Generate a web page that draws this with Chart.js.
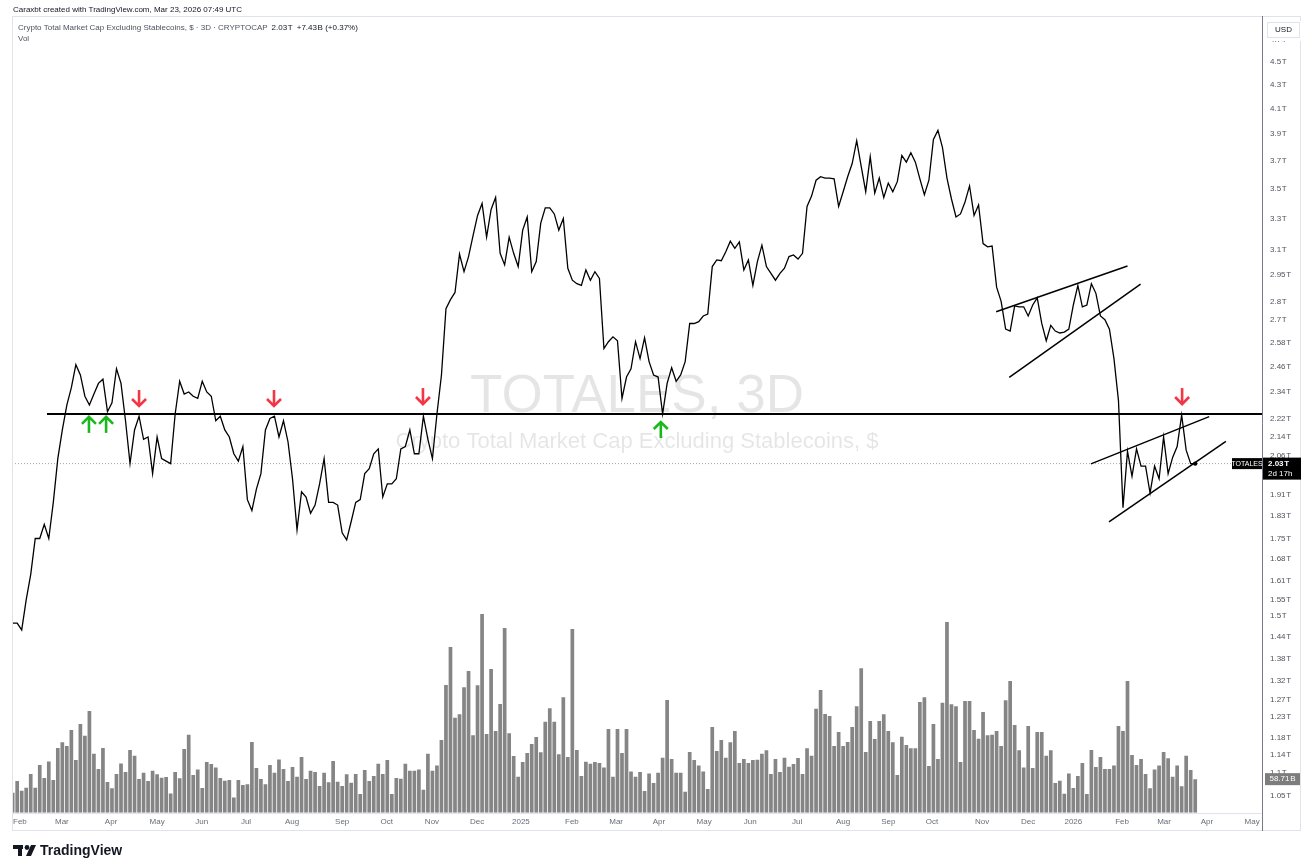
<!DOCTYPE html>
<html>
<head>
<meta charset="utf-8">
<script src="https://cdn.jsdelivr.net/npm/chart.js@4.4.0/dist/chart.umd.min.js"></script>
<style>
html, body { margin: 0; padding: 0; background: #fff; }
#wrap { position: relative; width: 1306px; height: 865px; }
</style>
</head>
<body>
<div id="wrap"><canvas id="chart"></canvas></div>
<script>
// TOTALES, 3D candles (close, in trillions USD)
const price = [
  1.48, 1.48, 1.46, 1.55, 1.63, 1.75, 1.75, 1.80, 1.75, 1.88,
  2.05, 2.17, 2.28, 2.36, 2.47, 2.42, 2.32, 2.28, 2.33, 2.38,
  2.40, 2.25, 2.29, 2.45, 2.38, 2.21, 2.03, 2.17, 2.23, 2.13,
  2.14, 1.99, 2.14, 2.05, 2.04, 2.03, 2.24, 2.39, 2.33, 2.34,
  2.32, 2.31, 2.39, 2.34, 2.32, 2.21, 2.23, 2.17, 2.14, 2.07,
  2.04, 2.10, 1.89, 1.85, 1.93, 1.99, 2.17, 2.22, 2.23, 2.14,
  2.21, 2.12, 1.97, 1.78, 1.92, 1.90, 1.84, 1.87, 1.95, 2.05,
  1.88, 1.88, 1.87, 1.77, 1.745, 1.81, 1.88, 1.89, 1.99, 2.01,
  2.07, 2.09, 1.90, 1.95, 1.95, 1.97, 2.09, 2.10, 2.17, 2.07,
  2.07, 2.23, 2.13, 2.05, 2.24, 2.42,
  2.76, 2.81, 2.85, 3.075, 2.97, 3.06, 3.19, 3.32, 3.40, 3.18,
  3.36, 3.44, 3.08, 3.01, 3.18, 3.08, 3.00, 3.225, 3.31, 2.97,
  3.03, 3.27, 3.37, 3.37, 3.33, 3.225, 3.30, 2.99, 2.92, 2.90,
  2.89, 2.98, 2.92, 2.97, 2.93, 2.55, 2.585, 2.61, 2.59, 2.31,
  2.41, 2.45, 2.585, 2.50, 2.605, 2.485, 2.42, 2.41, 2.24, 2.38,
  2.455, 2.39, 2.42, 2.485, 2.68, 2.68, 2.69,
  2.72, 2.73, 3.00, 3.04, 3.035, 3.09, 3.155, 3.11, 3.15, 2.98,
  3.04, 2.89, 3.03, 3.13, 3.00, 2.96, 2.92, 2.96, 2.99, 3.06,
  3.07, 3.045, 3.08, 3.38, 3.45, 3.56, 3.585, 3.575, 3.575, 3.57,
  3.38, 3.48, 3.585, 3.68, 3.85, 3.66, 3.48, 3.73, 3.47, 3.575,
  3.44, 3.54, 3.48, 3.55, 3.74, 3.69, 3.76, 3.69, 3.57, 3.46,
  3.56, 3.86, 3.93, 3.80, 3.575,
  3.43, 3.31, 3.33, 3.41, 3.52, 3.32, 3.39, 3.14, 3.12, 3.125,
  2.88, 2.80, 2.65, 2.64, 2.775, 2.77, 2.77, 2.72, 2.78, 2.82,
  2.68, 2.59, 2.67, 2.64, 2.63, 2.635, 2.65, 2.78, 2.89, 2.77,
  2.78, 2.90, 2.845, 2.72, 2.70, 2.65, 2.50, 2.30, 1.86, 2.08,
  1.98, 2.09, 2.02, 2.02, 1.915, 2.02, 1.97, 2.14, 1.99, 2.055,
  2.10, 2.235, 2.085, 2.03, 2.03
];

// volume per bar, billions
const volume = [
  35, 55.4, 38.5, 43.7, 67.7, 43.7, 83.4, 60.7, 89.8, 57.2,
  113.2, 123.1, 116.7, 144.7, 92.2, 155.2, 134.7, 177.9, 103.2, 76.4,
  113.2, 53.7, 42.6, 67.7, 86.3, 71.2, 109.7, 99.7, 58.9, 70,
  55.4, 73.5, 67.1, 61.2, 62.4, 33.8, 71.2, 60.1, 111.4, 136.5,
  65.9, 75.8, 43.2, 88.7, 85.2, 79.3, 60.7, 56, 57.2, 26.8,
  57.2, 48.4, 49.6, 123.7, 78.2, 58.9, 49.6, 83.4, 70, 93.3,
  76.4, 55.4, 79.9, 63, 97.4, 58.9, 73.5, 71.2, 46.7, 70,
  53.1, 90.4, 54.2, 46.7, 67.1, 52.5, 67.7, 32.7, 74.7, 55.4,
  64.2, 85.7, 67.7, 92.2, 32.7, 60.7, 59.5, 85.7, 73.5, 73.5,
  75.8, 40.2, 103.2, 73.5, 82.8, 127.2, 223.4,
  290, 166.2, 172.1, 219.3, 247.9, 135.3, 222.8, 347.7, 137.7, 251.4,
  142.9, 190.2, 323.2, 138.8, 99.2, 63, 88.7, 104.4, 120.2, 132.4,
  105.6, 159.2, 182.6, 159.2, 102.1, 201.8, 97.4, 321.4, 109.7, 64.2,
  89.2, 85.7, 88.7, 86.9, 79.3, 146.4, 63, 146.4, 104.4, 146.4,
  72.3, 63, 71.2, 37.9, 68.8, 51.9, 70, 96.2, 197.2, 93.9,
  70, 70, 36.7, 106.2, 92.2, 82.8, 72.3, 41.4, 149.9, 107.9,
  127.2, 96.2, 123.1, 142.9, 86.9, 93.9, 86.9, 92.2, 92.7, 103.2,
  109.1, 67.7, 93.9, 71.2, 96.2, 80.5, 85.2, 95.7, 67.7, 112.6,
  99.7, 182, 214.7, 172.7, 169.2,
  116.7, 141.2, 116.7, 123.7, 149.9, 186.1, 252.6, 106.2, 160.4, 128.9,
  160.4, 172.1, 142.9, 123.1, 65.9, 133, 118.4, 112.6, 112.6, 193.7,
  201.8, 81.7, 155.2, 93.9, 192.5, 333.7, 189.6, 186.1, 88.7, 195.4,
  195.4, 144.7, 129.5, 176.2, 135.3, 136.5, 142.9, 116.7, 196.6, 230.4,
  153.4, 109.1, 79.3, 151.7, 78.2, 141.2, 141.2, 99.7, 109.1, 51.9,
  56, 33.2, 68.8, 43.2, 64.2, 86.9, 32.7, 109.7, 79.9, 97.4,
  76.4, 76.4, 82.8, 151.7, 142.9, 230.4, 100.9, 83.4, 93.9, 67.7,
  42.6, 75.8, 82.8, 106.2, 95.1, 63, 82.8, 46.1, 99.7, 74.7,
  58.71
];

const priceTicks = [4.7, 4.5, 4.3, 4.1, 3.9, 3.7, 3.5, 3.3, 3.1, 2.95, 2.8, 2.7, 2.58, 2.46, 2.34,
  2.22, 2.14, 2.06, 1.98, 1.91, 1.83, 1.75, 1.68, 1.61, 1.55, 1.5, 1.44, 1.38, 1.32, 1.27,
  1.23, 1.18, 1.14, 1.1, 1.05];

const monthLabels = ['Feb', 'Mar', 'Apr', 'May', 'Jun', 'Jul', 'Aug', 'Sep', 'Oct', 'Nov', 'Dec', '2025',
  'Feb', 'Mar', 'Apr', 'May', 'Jun', 'Jul', 'Aug', 'Sep', 'Oct', 'Nov', 'Dec', '2026',
  'Feb', 'Mar', 'Apr', 'May'];
const monthIdx = [1.6, 10.9, 21.8, 32.0, 41.9, 51.7, 61.9, 73.0, 82.9, 92.9, 102.9, 112.6,
  123.9, 133.7, 143.2, 153.2, 163.4, 173.8, 184.0, 194.0, 203.7, 214.8, 225.0, 235.0,
  245.8, 255.1, 264.6, 274.6];

// drawings (bar index, price)
const supportLevel = 2.24;
const supportStart = 7.6;
const lastPrice = 2.03;
const lastVolume = 58.71;
const trendLines = [
  [[217.9, 2.743], [247.0, 3.003]],
  [[220.8, 2.409], [249.9, 2.898]],
  [[238.9, 2.029], [265.1, 2.228]],
  [[242.9, 1.809], [268.8, 2.122]]
];
const upArrows = [[16.9, 2.192], [20.7, 2.192], [143.6, 2.170]];
const downArrows = [[28.0, 2.312], [57.9, 2.312], [90.9, 2.321], [259.1, 2.321]];

const xMin = -0.15, xMax = 276.8;
const yMin = 1.0162, yMax = 4.891;
const volMax = 1387;

const FONT = '"Liberation Sans", Arial, sans-serif';
Chart.defaults.font.family = FONT;

function drawArrow(ctx, x, y, up, color) {
  ctx.save();
  ctx.strokeStyle = color;
  ctx.lineWidth = 2.6;
  ctx.lineCap = 'butt';
  ctx.lineJoin = 'miter';
  const h = 8;
  ctx.beginPath();
  ctx.moveTo(x, y - h);
  ctx.lineTo(x, y + h);
  ctx.stroke();
  ctx.beginPath();
  if (up) {
    ctx.moveTo(x - 7, y - h + 7);
    ctx.lineTo(x, y - h);
    ctx.lineTo(x + 7, y - h + 7);
  } else {
    ctx.moveTo(x - 7, y + h - 7);
    ctx.lineTo(x, y + h);
    ctx.lineTo(x + 7, y + h - 7);
  }
  ctx.stroke();
  ctx.restore();
}

const overlay = {
  id: 'overlay',
  beforeDatasetsDraw(chart) {
    const { ctx, chartArea: a } = chart;
    const cx = (a.left + a.right) / 2;
    ctx.save();
    ctx.fillStyle = 'rgba(0,0,0,0.1)';
    ctx.textAlign = 'center';
    ctx.textBaseline = 'middle';
    ctx.font = '53px ' + FONT;
    ctx.fillText('TOTALES, 3D', cx, 397);
    ctx.font = '22px ' + FONT;
    ctx.fillText('Crypto Total Market Cap Excluding Stablecoins, $', cx, 442);
    ctx.restore();
  },
  afterDatasetsDraw(chart) {
    const { ctx, scales } = chart;
    upArrows.forEach(p => drawArrow(ctx, scales.x.getPixelForValue(p[0]), scales.y.getPixelForValue(p[1]), true, '#19b91c'));
    downArrows.forEach(p => drawArrow(ctx, scales.x.getPixelForValue(p[0]), scales.y.getPixelForValue(p[1]), false, '#f23645'));
  },
  afterDraw(chart) {
    const { ctx, chartArea: a, scales } = chart;
    ctx.save();
    // pane frame
    ctx.strokeStyle = '#e0e3eb';
    ctx.lineWidth = 1;
    ctx.strokeRect(12.5, 16.5, 1288, 814);
    ctx.beginPath();
    ctx.moveTo(12, Math.round(a.bottom) + 0.5);
    ctx.lineTo(a.right, Math.round(a.bottom) + 0.5);
    ctx.stroke();
    ctx.strokeStyle = '#787b86';
    ctx.beginPath();
    ctx.moveTo(Math.round(a.right) + 0.5, 16);
    ctx.lineTo(Math.round(a.right) + 0.5, 831);
    ctx.stroke();

    // header
    ctx.textBaseline = 'middle';
    ctx.textAlign = 'left';
    ctx.fillStyle = '#131722';
    ctx.font = '8px ' + FONT;
    ctx.fillText('Caraxbt created with TradingView.com, Mar 23, 2026 07:49 UTC', 13, 10);

    // legend
    let x = 18;
    ctx.fillStyle = '#50535e';
    const t1 = 'Crypto Total Market Cap Excluding Stablecoins, $ \u00b7 3D \u00b7 CRYPTOCAP';
    ctx.fillText(t1, x, 28);
    x += ctx.measureText(t1).width + 4;
    ctx.fillStyle = '#131722';
    ctx.fillText('2.03\u200aT', x, 28);
    x += ctx.measureText('2.03\u200aT').width + 4;
    ctx.fillText('+7.43\u200aB (+0.37%)', x, 28);
    ctx.fillStyle = '#50535e';
    ctx.fillText('Vol', 18, 39);

    // USD box
    ctx.fillStyle = '#fff';
    ctx.fillRect(1267, 21, 34, 20);
    ctx.strokeStyle = '#e0e3eb';
    ctx.strokeRect(1267.5, 22.5, 32, 15);
    ctx.fillStyle = '#131722';
    ctx.textAlign = 'center';
    ctx.fillText('USD', 1283.5, 30);

    // last price labels
    const py = scales.y.getPixelForValue(lastPrice);
    ctx.fillStyle = '#000';
    ctx.fillRect(a.right + 1, py - 6, 38, 22);
    ctx.fillRect(a.right - 30, py - 5.5, 30, 11);
    ctx.fillStyle = '#fff';
    ctx.textAlign = 'left';
    ctx.font = 'bold 8px ' + FONT;
    ctx.fillText('2.03\u200aT', a.right + 6, py);
    ctx.font = '8px ' + FONT;
    ctx.fillText('2d 17h', a.right + 6, py + 10);
    ctx.font = '7px ' + FONT;
    ctx.textAlign = 'center';
    ctx.fillText('TOTALES', a.right - 15, py);

    // last volume label
    const vy = scales.yv.getPixelForValue(lastVolume);
    ctx.fillStyle = '#7d7d7d';
    ctx.fillRect(a.right + 3, vy - 6, 35, 12);
    ctx.fillStyle = '#fff';
    ctx.font = '8px ' + FONT;
    ctx.fillText('58.71\u200aB', a.right + 20.5, vy);

    // logo
    ctx.fillStyle = '#131722';
    ctx.fillRect(13, 845, 10, 4);
    ctx.fillRect(18, 845, 4, 11);
    ctx.beginPath();
    ctx.arc(27, 847.5, 2.4, 0, Math.PI * 2);
    ctx.fill();
    ctx.beginPath();
    ctx.moveTo(31, 845);
    ctx.lineTo(36, 845);
    ctx.lineTo(31, 856);
    ctx.lineTo(26, 856);
    ctx.closePath();
    ctx.fill();
    ctx.textAlign = 'left';
    ctx.font = 'bold 14px ' + FONT;
    ctx.fillText('TradingView', 40, 851);
    ctx.restore();
  }
};

const plain = { pointRadius: 0, tension: 0, fill: false };

const datasets = [
  {
    type: 'line',
    data: price.map((v, i) => ({ x: i, y: v })),
    borderColor: '#000',
    borderWidth: 1.3,
    pointRadius: price.map((v, i) => (i === price.length - 1 ? 2.2 : 0)),
    pointBackgroundColor: '#000',
    pointBorderWidth: 0,
    tension: 0,
    yAxisID: 'y',
    order: 1
  },
  {
    type: 'bar',
    data: volume.map((v, i) => ({ x: i, y: v })),
    backgroundColor: '#858585',
    barPercentage: 0.82,
    categoryPercentage: 1,
    yAxisID: 'yv',
    order: 5
  },
  {
    type: 'line',
    data: [{ x: xMin, y: lastPrice }, { x: xMax, y: lastPrice }],
    borderColor: '#a3a6af',
    borderWidth: 1,
    borderDash: [1, 2],
    yAxisID: 'y',
    order: 4,
    ...plain
  },
  {
    type: 'line',
    data: [{ x: supportStart, y: supportLevel }, { x: xMax, y: supportLevel }],
    borderColor: '#000',
    borderWidth: 2,
    yAxisID: 'y',
    order: 0,
    ...plain
  }
];
trendLines.forEach(t => datasets.push({
  type: 'line',
  data: t.map(p => ({ x: p[0], y: p[1] })),
  borderColor: '#000',
  borderWidth: 1.5,
  yAxisID: 'y',
  order: 0,
  ...plain
}));

new Chart(document.getElementById('chart'), {
  type: 'line',
  data: { datasets },
  options: {
    responsive: true,
    maintainAspectRatio: false,
    animation: false,
    layout: { padding: { left: 12, top: 20, right: 0, bottom: 0 } },
    plugins: { legend: { display: false }, tooltip: { enabled: false } },
    scales: {
      x: {
        type: 'linear',
        min: xMin,
        max: xMax,
        offset: false,
        afterBuildTicks: axis => { axis.ticks = monthIdx.map(v => ({ value: v })); },
        afterFit: axis => { axis.height = 52.3; },
        ticks: {
          callback: (v, i) => monthLabels[i],
          autoSkip: false,
          maxRotation: 0,
          padding: 4,
          color: '#6a6d78',
          font: { size: 8 }
        },
        grid: { display: false, drawTicks: false },
        border: { display: false }
      },
      y: {
        type: 'logarithmic',
        position: 'right',
        min: yMin,
        max: yMax,
        afterBuildTicks: axis => { axis.ticks = priceTicks.map(v => ({ value: v })); },
        afterFit: axis => { axis.width = 44; },
        ticks: {
          callback: v => v + '\u200aT',
          autoSkip: false,
          padding: 8,
          color: '#50535e',
          font: { size: 8 }
        },
        grid: { display: false, drawTicks: false },
        border: { display: false }
      },
      yv: {
        type: 'linear',
        display: false,
        min: 0,
        max: volMax
      }
    }
  },
  plugins: [overlay]
});
</script>
</body>
</html>
